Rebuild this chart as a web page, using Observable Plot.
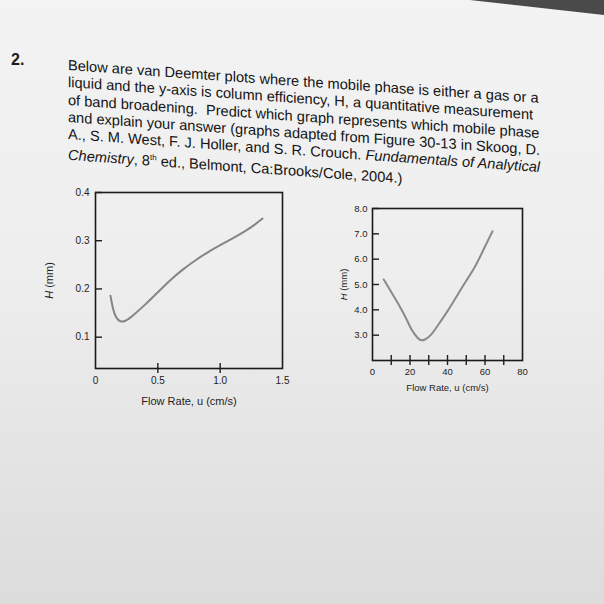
<!DOCTYPE html>
<html>
<head>
<meta charset="utf-8">
<script src="https://cdn.jsdelivr.net/npm/d3@7"></script>
<script src="https://cdn.jsdelivr.net/npm/@observablehq/plot@0.6"></script>
<style>
  html, body { margin: 0; padding: 0; }
  body {
    width: 604px; height: 604px; position: relative; overflow: hidden;
    background: linear-gradient(180deg, #f3f3f3 0%, #eeeeee 45%, #dcdcdc 100%);
    font-family: "Liberation Sans", Arial, sans-serif; color: #1c1c1c;
  }
  #corner { position: absolute; left: 470px; top: 0; width: 134px; height: 15px;
    background: #4a4a4a; clip-path: polygon(0 0, 100% 0, 100% 100%); }
  #num { position: absolute; left: 11px; top: 51px; font-size: 16px; font-weight: bold; }
  #para { position: absolute; left: 68px; top: 57px; font-size: 14.6px; line-height: 17.3px;
    white-space: nowrap; transform: skewY(4deg); transform-origin: 0 0; font-weight: normal; color: #141414; }
  .plot { position: absolute; }
  #left { left: 30px; top: 180px; }
  #right { left: 320px; top: 195px; }
</style>
</head>
<body>
<div id="corner"></div>
<div id="num">2.</div>
<div id="para">
Below are van Deemter plots where the mobile phase is either a gas or a<br>
liquid and the y-axis is column efficiency, H, a quantitative measurement<br>
of band broadening.&nbsp; Predict which graph represents which mobile phase<br>
and explain your answer (graphs adapted from Figure 30-13 in Skoog, D.<br>
A., S. M. West, F. J. Holler, and S. R. Crouch. <i>Fundamentals of Analytical</i><br>
<i>Chemistry</i>, 8<sup style="font-size:8px">th</sup> ed., Belmont, Ca:Brooks/Cole, 2004.)
</div>
<div id="left" class="plot"></div>
<div id="right" class="plot"></div>
<script>
// ---- Left panel (H in mm vs flow rate in cm/s) ----
const leftFlow = [0.12, 0.14, 0.165, 0.20, 0.24, 0.30, 0.40, 0.50, 0.60, 0.70, 0.80, 0.90, 1.00, 1.10, 1.20, 1.28, 1.34];
const leftH    = [0.186, 0.160, 0.142, 0.133, 0.134, 0.145, 0.168, 0.193, 0.218, 0.240, 0.259, 0.276, 0.291, 0.305, 0.320, 0.334, 0.346];
const leftXTickMarks  = [0.5, 1.0];
const leftXTickLabels = [0, 0.5, 1.0, 1.5];
const leftYTicks      = [0.1, 0.2, 0.3, 0.4];

// ---- Right panel ----
const rightFlow = [6, 10, 14, 18, 21, 24, 26, 28, 31, 35, 40, 45, 50, 55, 60, 64];
const rightH    = [5.2, 4.7, 4.2, 3.65, 3.2, 2.9, 2.8, 2.83, 3.0, 3.4, 3.95, 4.55, 5.15, 5.75, 6.5, 7.1];
const rightXTickMarks  = [10, 20, 30, 40, 50, 60, 70];
const rightXTickLabels = [0, 20, 40, 60, 80];
const rightYTicks      = [3, 4, 5, 6, 7, 8];

const leftData = leftFlow.map((u, i) => ({u, H: leftH[i]}));
const rightData = rightFlow.map((u, i) => ({u, H: rightH[i]}));

const baseStyle = {background: "transparent", fontFamily: "'Liberation Sans', Arial, sans-serif", color: "#1e1e1e"};

const left = Plot.plot({
  width: 270, height: 245,
  marginLeft: 65, marginRight: 18, marginTop: 12, marginBottom: 57,
  style: {...baseStyle, fontSize: "10px"},
  x: {domain: [0, 1.5]},
  y: {domain: [0.035, 0.4]},
  marks: [
    Plot.frame({stroke: "#1a1a1a", strokeWidth: 1.6}),
    Plot.axisY(leftYTicks, {tickSize: 7, dx: 7, tickPadding: 6, tickFormat: d => d.toFixed(1),
      label: "H (mm)", labelArrow: "none", labelAnchor: "center", labelOffset: 50, strokeWidth: 1.4, fontSize: 10}),
    Plot.axisX(leftXTickMarks, {tickSize: 10, dy: -5, tickFormat: () => "", label: null, strokeWidth: 1.4}),
    Plot.axisX(leftXTickLabels, {tickSize: 0, tickPadding: 8, tickFormat: d => d === 0 ? "0" : d.toFixed(1),
      label: "Flow Rate, u (cm/s)", labelArrow: "none", labelAnchor: "center", labelOffset: 36, fontSize: 10}),
    Plot.line(leftData, {x: "u", y: "H", curve: "natural", stroke: "#858585", strokeWidth: 2})
  ]
});

const right = Plot.plot({
  width: 230, height: 210,
  marginLeft: 52, marginRight: 28, marginTop: 13, marginBottom: 45,
  style: {...baseStyle, fontSize: "9.5px"},
  x: {domain: [0, 80]},
  y: {domain: [2, 8]},
  marks: [
    Plot.frame({stroke: "#1a1a1a", strokeWidth: 1.6}),
    Plot.axisY(rightYTicks, {tickSize: 7, dx: 7, tickPadding: 5, tickFormat: d => d.toFixed(1),
      label: "H (mm)", labelArrow: "none", labelAnchor: "center", labelOffset: 32, strokeWidth: 1.4, fontSize: 9.5}),
    Plot.axisX(rightXTickMarks, {tickSize: 10, dy: -5, tickFormat: () => "", label: null, strokeWidth: 1.4}),
    Plot.axisX(rightXTickLabels, {tickSize: 0, tickPadding: 8, tickFormat: d => String(d),
      label: "Flow Rate, u (cm/s)", labelArrow: "none", labelAnchor: "center", labelOffset: 30, fontSize: 9.5}),
    Plot.line(rightData, {x: "u", y: "H", curve: "natural", stroke: "#8a8a8a", strokeWidth: 2})
  ]
});

document.getElementById("left").appendChild(left);
document.getElementById("right").appendChild(right);

// tidy axis labels: no arrows, italic H
for (const svg of [left, right]) {
  svg.querySelectorAll("text").forEach(t => {
    const s = t.textContent.replace(/[\u2190-\u2193]/g, "").trim();
    if (s === "H (mm)") {
      t.textContent = "";
      const a = document.createElementNS("http://www.w3.org/2000/svg", "tspan");
      a.setAttribute("font-style", "italic");
      a.textContent = "H";
      const b = document.createElementNS("http://www.w3.org/2000/svg", "tspan");
      b.textContent = " (mm)";
      t.appendChild(a); t.appendChild(b);
      t.setAttribute("font-size", svg === left ? "11px" : "9.5px");
    } else if (s === "Flow Rate, u (cm/s)") {
      t.textContent = s;
      t.setAttribute("font-size", svg === left ? "11px" : "9.5px");
    }
  });
}
</script>
</body>
</html>
